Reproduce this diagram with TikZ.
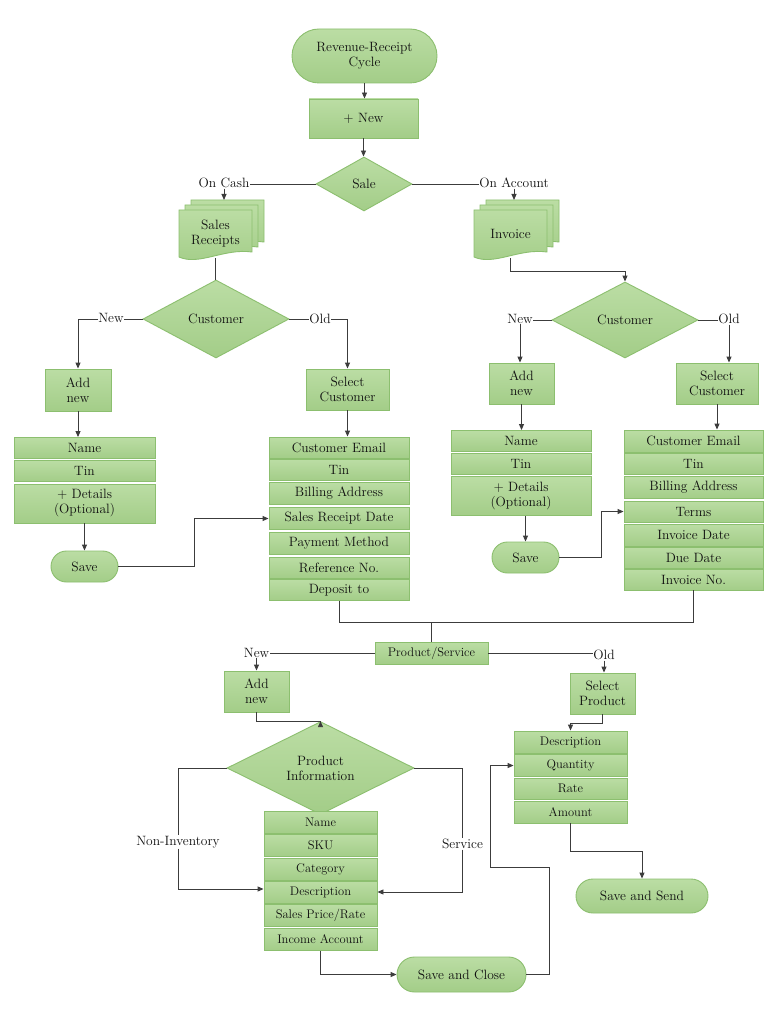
\documentclass[tikz,border=0pt]{standalone}
\usepackage{fontspec}
\usetikzlibrary{shapes.geometric,shapes.misc,arrows.meta,calc}
\definecolor{gtop}{HTML}{BBDDA4}
\definecolor{gbot}{HTML}{A3CD88}
\definecolor{gbd}{HTML}{8CBF6F}
\definecolor{lncol}{HTML}{3C3C3C}
\definecolor{txcol}{HTML}{101010}
\tikzset{
 gfill/.style={draw=gbd, line width=0.9pt, top color=gtop, bottom color=gbot},
 txt/.style={font=\fontsize{13.5}{15}\selectfont, align=center, text=txcol},
 stxt/.style={font=\fontsize{12.5}{14}\selectfont, align=center, text=txcol},
 box/.style={gfill, txt, rectangle, inner sep=0pt},
 term/.style={gfill, txt, rounded rectangle, inner sep=0pt},
 dia/.style={gfill, txt, diamond, inner sep=0pt},
 lbl/.style={txt, inner sep=0.5pt},
 conn/.style={draw=lncol, line width=0.9pt},
 arr/.style={conn, -{Triangle[length=6pt,width=5pt]}},
 sz/.style 2 args={minimum width=#1, minimum height=#2},
 pics/docpage/.style={code={\path[gfill] (0,0) -- (73,0) -- (73,42) .. controls (45,38) and (20,56) .. (0,47) -- cycle;}}
}
\begin{document}
\begin{tikzpicture}[x=1pt,y=-1pt]
\useasboundingbox (0,0) rectangle (768,1024);
\fill[white] (0,0) rectangle (768,1024);

% top
\node[term, sz={145pt}{54pt}] (start) at (364.5,56) {Revenue-Receipt\\Cycle};
\node[box, sz={109pt}{39pt}] (newb) at (363.5,118.5) {+ New};
\node[dia, sz={96pt}{54pt}] (sale) at (364,184) {Sale};
\node[lbl] (oncash) at (224,183) {On Cash};
\node[lbl] (onacc) at (514,183) {On Account};

% documents
\pic at (191,200) {docpage};
\pic at (185,205) {docpage};
\pic at (179,210) {docpage};
\node[txt, sz={73pt}{48pt}, inner sep=0pt] (srdoc) at (215.5,234) {Sales\\Receipts};
\coordinate (srback) at (227,200);
\pic at (486,200) {docpage};
\pic at (480,205) {docpage};
\pic at (474,210) {docpage};
\node[txt, sz={73pt}{48pt}, inner sep=0pt] (invdoc) at (510.5,234) {Invoice};
\coordinate (invback) at (522,200);

% left customer
\node[dia, sz={146pt}{78pt}] (cust1) at (216,319) {Customer};
\node[lbl] (new1) at (111,318) {New};
\node[lbl] (old1) at (320,319) {Old};
\node[box, sz={66pt}{42pt}] (add1) at (78,390) {Add\\new};
\node[box, sz={141pt}{21pt}] (lname) at (84.5,448) {Name};
\node[box, sz={141pt}{21pt}] (ltin) at (84.5,471) {Tin};
\node[box, sz={141pt}{39pt}] (ldet) at (84.5,503.5) {+ Details\\(Optional)};
\node[term, sz={67pt}{31pt}] (save1) at (84.5,566.5) {Save};
\node[box, sz={83pt}{41pt}] (sel1) at (347.5,389.5) {Select\\Customer};
\node[box, sz={140pt}{21pt}] (ce1) at (339,447.5) {Customer Email};
\node[box, sz={140pt}{21pt}] (tin1) at (339,470) {Tin};
\node[box, sz={140pt}{22pt}] (bill1) at (339,493.5) {Billing Address};
\node[box, sz={140pt}{22pt}] (srd) at (339,518.5) {Sales Receipt Date};
\node[box, sz={140pt}{22pt}] (pay) at (339,543.5) {Payment Method};
\node[box, sz={140pt}{21pt}] (ref) at (339,567.5) {Reference No.};
\node[box, sz={140pt}{21pt}] (dep) at (339,590) {Deposit to};

% right customer
\node[dia, sz={146pt}{76pt}] (cust2) at (625,320) {Customer};
\node[lbl] (new2) at (520,319) {New};
\node[lbl] (old2) at (729,319) {Old};
\node[box, sz={65pt}{41pt}] (add2) at (521.5,383.5) {Add\\new};
\node[box, sz={140pt}{21pt}] (rname) at (521,441) {Name};
\node[box, sz={140pt}{21pt}] (rtin) at (521,463.5) {Tin};
\node[box, sz={140pt}{39pt}] (rdet) at (521,496) {+ Details\\(Optional)};
\node[term, sz={67pt}{31pt}] (save2) at (525.5,557.5) {Save};
\node[box, sz={82pt}{41pt}] (sel2) at (717,383.5) {Select\\Customer};
\node[box, sz={139pt}{22pt}] (rce) at (693.5,441) {Customer Email};
\node[box, sz={139pt}{21pt}] (rtin2) at (693.5,463.5) {Tin};
\node[box, sz={139pt}{22pt}] (rbill) at (693.5,487.5) {Billing Address};
\node[box, sz={139pt}{21pt}] (terms) at (693.5,511.5) {Terms};
\node[box, sz={139pt}{22pt}] (invd) at (693.5,535) {Invoice Date};
\node[box, sz={139pt}{21pt}] (due) at (693.5,557.5) {Due Date};
\node[box, sz={139pt}{21pt}] (invno) at (693.5,579.5) {Invoice No.};

% product / service
\node[box, stxt, sz={113pt}{22pt}] (ps) at (431.5,653) {Product/Service};
\node[lbl] (pnew) at (256.5,653) {New};
\node[lbl] (pold) at (604,655) {Old};
\node[box, sz={65pt}{41pt}] (add3) at (256.5,691.5) {Add\\new};
\node[dia, sz={187pt}{80pt}] (pinfo) at (320.5,768) {Product\\Information};
\node[lbl] (noninv) at (178,842) {Non-Inventory};
\node[lbl] (serv) at (462.5,844) {Service};
\node[box, stxt, sz={113pt}{22pt}] (pname) at (320.5,822) {Name};
\node[box, stxt, sz={113pt}{22pt}] (sku) at (320.5,845.5) {SKU};
\node[box, stxt, sz={113pt}{22pt}] (cat) at (320.5,869) {Category};
\node[box, stxt, sz={113pt}{22pt}] (pdesc) at (320.5,892) {Description};
\node[box, stxt, sz={113pt}{22pt}] (spr) at (320.5,915.5) {Sales Price/Rate};
\node[box, stxt, sz={113pt}{22pt}] (pinc) at (320.5,939.5) {Income Account};
\node[term, sz={129pt}{35pt}] (sc) at (461.5,974.5) {Save and Close};
\node[box, sz={65pt}{41pt}] (sel3) at (602.5,693.5) {Select\\Product};
\node[box, stxt, sz={113pt}{22pt}] (pd) at (570.5,742) {Description};
\node[box, stxt, sz={113pt}{22pt}] (qty) at (570.5,765.5) {Quantity};
\node[box, stxt, sz={113pt}{21pt}] (rate) at (570.5,788.5) {Rate};
\node[box, stxt, sz={113pt}{22pt}] (amt) at (570.5,812) {Amount};
\node[term, sz={132pt}{34pt}] (ss) at (642,896) {Save and Send};

% connectors top
\draw[arr] (start.south) -- (start.south |- newb.north);
\draw[arr] (newb.south) -- (newb.south |- sale.north);
\draw[conn] (sale.west) -- (sale.west -| oncash.east);
\draw[arr] (oncash.south) -- (oncash.south |- srback);
\draw[conn] (sale.east) -- (sale.east -| onacc.west);
\draw[arr] (onacc.south) -- (onacc.south |- invback);
\draw[conn] (srdoc.south) -- (srdoc.south |- cust1.north);
\draw[arr] (invdoc.south) -- ++(0,13) -| (cust2.north);

% left
\draw[conn] (cust1.west) -- (cust1.west -| new1.east);
\draw[arr] (cust1.west -| new1.west) -| (add1.north);
\draw[conn] (cust1.east) -- (cust1.east -| old1.west);
\draw[arr] (cust1.east -| old1.east) -| (sel1.north);
\draw[arr] (add1.south) -- (add1.south |- lname.north);
\draw[arr] (ldet.south) -- (save1.north);
\draw[arr] (save1.east) -- ++(76,0) |- (srd.west);
\draw[arr] (sel1.south) -- (sel1.south |- ce1.north);

% right
\draw[conn] (cust2.west) -- (cust2.west -| new2.east);
\draw[arr] (new2.south) -- (new2.south |- add2.north);
\draw[conn] (cust2.east) -- (cust2.east -| old2.west);
\draw[arr] (old2.south) -- (old2.south |- sel2.north);
\draw[arr] (add2.south) -- (add2.south |- rname.north);
\draw[arr] (save2.north |- rdet.south) -- (save2.north);
\draw[arr] (save2.east) -- ++(42,0) |- (terms.west);
\draw[arr] (sel2.south) -- (sel2.south |- rce.north);

% join
\draw[conn] (dep.south) -- ++(0,21) -| (invno.south);
\draw[conn] (ps.north) -- ++(0,-20);

% bottom
\draw[conn] (ps.west) -- (ps.west -| pnew.east);
\draw[arr] (pnew.south) -- (pnew.south |- add3.north);
\draw[conn] (ps.east) -- (ps.east -| pold.west);
\draw[arr] (pold.south) -- (pold.south |- sel3.north);
\draw[arr] (add3.south) -- ++(0,9) -| (pinfo.north);
\draw[conn] (pinfo.west) -| (noninv.north);
\draw[arr] (noninv.south) |- ([yshift=3pt]pdesc.west);
\draw[conn] (pinfo.east) -| (serv.north);
\draw[arr] (serv.south) |- (pdesc.east);
\draw[arr] (pinc.south) |- (sc.west);
\draw[arr] (sc.east) -- ++(23,0) -- ++(0,-107.5) -- ++(-59,0) |- (qty.west);
\draw[arr] (sel3.south) -- ++(0,9) -| (pd.north);
\draw[arr] (amt.south) -- ++(0,28) -| (ss.north);
\end{tikzpicture}
\end{document}
